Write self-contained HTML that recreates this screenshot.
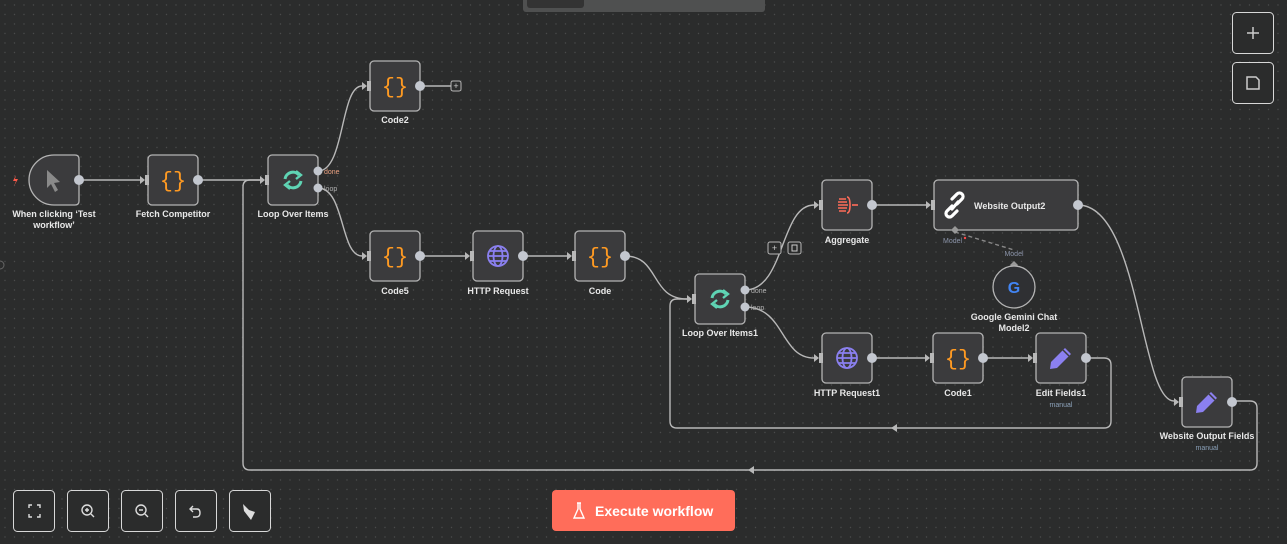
<!DOCTYPE html>
<html><head><meta charset="utf-8"><style>
html,body{margin:0;padding:0;width:1287px;height:544px;overflow:hidden;background:#2b2c2c;font-family:"Liberation Sans",sans-serif}
svg{position:absolute;left:0;top:0}
.lbl{font-family:"Liberation Sans",sans-serif;font-size:9px;font-weight:bold;fill:#e8e8e8;text-anchor:middle}
.sub{font-family:"Liberation Sans",sans-serif;font-size:7px;fill:#8aa0b8;text-anchor:middle}
.pl{font-family:"Liberation Sans",sans-serif;font-size:7px;fill:#b0b0b0}
</style></head><body>
<svg width="1287" height="544" viewBox="0 0 1287 544">
<defs>
<pattern id="dots" width="9.5" height="9.5" patternUnits="userSpaceOnUse"><circle cx="5" cy="5" r="0.7" fill="#4a4b4b"/></pattern>
<g id="in"><path d="M-8,-4 L-3,0 L-8,4Z" fill="#b8b8b8"/><rect x="-3" y="-5" width="4" height="10" fill="#b8b8b8"/></g>
<g id="box"><rect x="0" y="0" width="50" height="50" rx="4" fill="#3b3b3d" stroke="#b4b4b4" stroke-width="1.3"/></g>
<g id="braces"><text x="0" y="7" font-family="Liberation Mono,monospace" font-size="22" fill="#ff9a22" text-anchor="middle">{}</text></g>
<g id="globe" fill="none" stroke="#8b80f0" stroke-width="1.8"><circle r="10"/><ellipse rx="4.5" ry="10"/><line x1="-10" y1="0" x2="10" y2="0"/><path d="M-8.5,-5H8.5M-8.5,5H8.5"/></g>
<g id="loop" fill="none" stroke="#5fd4b4" stroke-width="3"><path d="M-8,-1 A8,8 0 0 1 6,-5"/><path d="M8,1 A8,8 0 0 1 -6,5"/><path d="M3,-9 L8,-5 L3,-1" stroke-width="2.4"/><path d="M-3,9 L-8,5 L-3,1" stroke-width="2.4"/></g>
<g id="pencil"><path d="M4,-10 L10,-4 L-4,10 L-11,11 L-10,4Z" fill="#8b80f0"/><line x1="2" y1="-8" x2="8" y2="-2" stroke="#3b3b3d" stroke-width="1.5"/></g>
</defs>
<rect width="1287" height="544" fill="#2b2c2c"/>
<rect width="1287" height="544" fill="url(#dots)"/>
<!-- top bar -->
<rect x="523" y="-6" width="242" height="18" rx="3" fill="#4f5050"/>
<rect x="527" y="-6" width="57" height="14" rx="3" fill="#333"/>
<!-- edges -->
<g fill="none" stroke="#b8b8b8" stroke-width="1.4">
<path d="M79,180 H140"/>
<path d="M198,180 H260"/>
<path d="M318,171 C345,171 340,86 362,86"/>
<path d="M420,86 H451"/>
<path d="M318,188 C345,188 340,256 362,256"/>
<path d="M420,256 H465"/>
<path d="M523,256 H567"/>
<path d="M625,256 C660,256 650,299 687,299"/>
<path d="M745,290 C785,290 780,205 814,205"/>
<path d="M872,205 H926"/>
<path d="M745,307 C785,307 780,358 814,358"/>
<path d="M872,358 H925"/>
<path d="M983,358 H1028"/>
<path d="M1078,205 C1140,205 1140,401 1174,401"/>
<path d="M1086,358 H1104 Q1111,358 1111,365 V421 Q1111,428 1104,428 H677 Q670,428 670,421 V306 Q670,299 677,299 H687"/>
<path d="M1232,401 H1250 Q1257,401 1257,408 V463 Q1257,470 1250,470 H250 Q243,470 243,463 V187 Q243,180 250,180 H260"/>
<path d="M955,232 L1014,250" stroke="#888" stroke-dasharray="4,3"/>
</g>
<path d="M897,424 L891,428 L897,432Z" fill="#b8b8b8"/>
<path d="M754,466 L748,470 L754,474Z" fill="#b8b8b8"/>
<!-- trigger -->
<path d="M54,155 H75 Q79,155 79,159 V201 Q79,205 75,205 H54 A25,25 0 0 1 29,180 A25,25 0 0 1 54,155Z" fill="#3b3b3d" stroke="#b4b4b4" stroke-width="1.3"/>
<path d="M47,170 L47,188 L51,184 L55,192 L58,190 L54,183 L60,182Z" fill="#8a8a8a"/>
<path d="M16,175 L13,181 L16,181 L14,186 L18,179 L15,179Z" fill="#ff5a4a"/>
<circle cx="79" cy="180" r="5" fill="#c3c7cf"/>
<text class="lbl" x="54" y="217">When clicking ‘Test</text>
<text class="lbl" x="54" y="228">workflow’</text>
<!-- Fetch Competitor -->
<use href="#box" x="148" y="155"/><use href="#in" x="148" y="180"/><use href="#braces" x="173" y="180"/><circle cx="198" cy="180" r="5" fill="#c3c7cf"/>
<text class="lbl" x="173" y="217">Fetch Competitor</text>
<!-- Loop Over Items -->
<use href="#box" x="268" y="155"/><use href="#in" x="268" y="180"/><use href="#loop" x="293" y="180"/>
<circle cx="318" cy="171" r="4.5" fill="#c3c7cf"/><circle cx="318" cy="188" r="4.5" fill="#c3c7cf"/>
<text class="pl" x="324" y="174" fill="#ff9a6a" style="fill:#e8a080">done</text><text class="pl" x="324" y="191">loop</text>
<text class="lbl" x="293" y="217">Loop Over Items</text>
<!-- Code2 -->
<use href="#box" x="370" y="61"/><use href="#in" x="370" y="86"/><use href="#braces" x="395" y="86"/><circle cx="420" cy="86" r="5" fill="#c3c7cf"/>
<rect x="451" y="81" width="10" height="10" rx="2" fill="#2b2c2c" stroke="#b8b8b8"/><text x="456" y="89" font-size="9" fill="#ccc" text-anchor="middle">+</text>
<text class="lbl" x="395" y="123">Code2</text>
<!-- Code5 -->
<use href="#box" x="370" y="231"/><use href="#in" x="370" y="256"/><use href="#braces" x="395" y="256"/><circle cx="420" cy="256" r="5" fill="#c3c7cf"/>
<text class="lbl" x="395" y="294">Code5</text>
<!-- HTTP Request -->
<use href="#box" x="473" y="231"/><use href="#in" x="473" y="256"/><use href="#globe" x="498" y="256"/><circle cx="523" cy="256" r="5" fill="#c3c7cf"/>
<text class="lbl" x="498" y="294">HTTP Request</text>
<!-- Code -->
<use href="#box" x="575" y="231"/><use href="#in" x="575" y="256"/><use href="#braces" x="600" y="256"/><circle cx="625" cy="256" r="5" fill="#c3c7cf"/>
<text class="lbl" x="600" y="294">Code</text>
<!-- Loop Over Items1 -->
<use href="#box" x="695" y="274"/><use href="#in" x="695" y="299"/><use href="#loop" x="720" y="299"/>
<circle cx="745" cy="290" r="4.5" fill="#c3c7cf"/><circle cx="745" cy="307" r="4.5" fill="#c3c7cf"/>
<text class="pl" x="751" y="293">done</text><text class="pl" x="751" y="310">loop</text>
<text class="lbl" x="720" y="336">Loop Over Items1</text>
<rect x="768" y="242" width="13" height="12" rx="2" fill="#2b2c2c" stroke="#b8b8b8"/><text x="774.5" y="251" font-size="9" fill="#ccc" text-anchor="middle">+</text>
<rect x="788" y="242" width="13" height="12" rx="2" fill="#2b2c2c" stroke="#b8b8b8"/><rect x="792" y="245" width="5" height="6" fill="none" stroke="#ccc"/>
<!-- Aggregate -->
<use href="#box" x="822" y="180"/><use href="#in" x="822" y="205"/>
<g stroke="#ff6d5a" stroke-width="1.6" fill="none"><path d="M839,199 H846 M838,202 H847 M838,205 H848 M838,208 H847 M839,211 H846"/><path d="M847,197 Q850,197 850,205 Q850,213 847,213"/><path d="M852,205 H858"/></g>
<circle cx="872" cy="205" r="5" fill="#c3c7cf"/>
<text class="lbl" x="847" y="243">Aggregate</text>
<!-- Website Output2 -->
<rect x="934" y="180" width="144" height="50" rx="4" fill="#3b3b3d" stroke="#b4b4b4" stroke-width="1.3"/><use href="#in" x="934" y="205"/>
<g fill="none" stroke="#fff" stroke-width="3.2" stroke-linecap="round"><path d="M952,206 L947,211 A3.5,3.5 0 0 0 952,216 L957,211"/><path d="M957,204 L962,199 A3.5,3.5 0 0 0 957,194 L952,199"/><path d="M952,209 L958,202"/></g>
<text x="974" y="209" font-size="9" font-weight="bold" fill="#e8e8e8">Website Output2</text>
<circle cx="1078" cy="205" r="5" fill="#c3c7cf"/>
<path d="M955,226 L959,230 L955,234 L951,230Z" fill="#999"/>
<text x="943" y="243" font-size="7" fill="#8a93a8">Model</text><circle cx="965" cy="238" r="1.2" fill="#ff4a4a"/>
<!-- Gemini -->
<text x="1014" y="256" font-size="7" fill="#8a93a8" text-anchor="middle">Model</text>
<path d="M1014,261 L1018,265 L1014,269 L1010,265Z" fill="#999"/>
<circle cx="1014" cy="287" r="21" fill="#2f3033" stroke="#b4b4b4" stroke-width="1.3"/>
<text x="1014" y="293" font-size="16" font-weight="bold" fill="#4285f4" text-anchor="middle">G</text>
<text class="lbl" x="1014" y="320">Google Gemini Chat</text>
<text class="lbl" x="1014" y="331">Model2</text>
<!-- HTTP Request1 -->
<use href="#box" x="822" y="333"/><use href="#in" x="822" y="358"/><use href="#globe" x="847" y="358"/><circle cx="872" cy="358" r="5" fill="#c3c7cf"/>
<text class="lbl" x="847" y="396">HTTP Request1</text>
<!-- Code1 -->
<use href="#box" x="933" y="333"/><use href="#in" x="933" y="358"/><use href="#braces" x="958" y="358"/><circle cx="983" cy="358" r="5" fill="#c3c7cf"/>
<text class="lbl" x="958" y="396">Code1</text>
<!-- Edit Fields1 -->
<use href="#box" x="1036" y="333"/><use href="#in" x="1036" y="358"/><use href="#pencil" x="1061" y="358"/><circle cx="1086" cy="358" r="5" fill="#c3c7cf"/>
<text class="lbl" x="1061" y="396">Edit Fields1</text><text class="sub" x="1061" y="407">manual</text>
<!-- Website Output Fields -->
<use href="#box" x="1182" y="377"/><use href="#in" x="1182" y="402"/><use href="#pencil" x="1207" y="402"/><circle cx="1232" cy="402" r="5" fill="#c3c7cf"/>
<text class="lbl" x="1207" y="439">Website Output Fields</text><text class="sub" x="1207" y="450">manual</text>
<!-- left edge half circle -->
<circle cx="0" cy="265" r="4" fill="none" stroke="#666"/>
<!-- right buttons -->
<rect x="1232.5" y="12.5" width="41" height="41" rx="4" fill="#2b2c2c" stroke="#d8d8d8"/>
<path d="M1253,27 V39 M1247,33 H1259" stroke="#ccc" stroke-width="1.5"/>
<rect x="1232.5" y="62.5" width="41" height="41" rx="4" fill="#2b2c2c" stroke="#d8d8d8"/>
<path d="M1247,77 H1256 L1259,80 V89 H1247Z" fill="none" stroke="#ccc" stroke-width="1.5"/>
<!-- bottom buttons -->
<g fill="#2b2c2c" stroke="#d8d8d8">
<rect x="13.5" y="490.5" width="41" height="41" rx="4"/><rect x="67.5" y="490.5" width="41" height="41" rx="4"/><rect x="121.5" y="490.5" width="41" height="41" rx="4"/><rect x="175.5" y="490.5" width="41" height="41" rx="4"/><rect x="229.5" y="490.5" width="41" height="41" rx="4"/>
</g>
<g fill="none" stroke="#ddd" stroke-width="1.4">
<path d="M29,508 V505 H32 M37,505 H40 V508 M40,514 V517 H37 M32,517 H29 V514"/>
<circle cx="87" cy="510" r="5"/><path d="M91,514 L94,517 M85,510 H89 M87,508 V512"/>
<circle cx="141" cy="510" r="5"/><path d="M145,514 L148,517 M139,510 H143"/>
<path d="M193,506 L190,509 L193,512 M190,509 H197 Q200,509 200,513 Q200,517 196,517 H193"/>
</g>
<path d="M243,504 L249,510 L255,512 L251,520 L244,511Z" fill="#ddd"/>
<!-- execute -->
<rect x="552" y="490" width="183" height="41" rx="4" fill="#ff6d5a"/>
<path d="M578,503 V509 L574,518 H584 L580,509 V503 M577,503 H581" fill="none" stroke="#fff" stroke-width="1.4"/>
<text x="595" y="516" font-size="14" font-weight="bold" fill="#fff">Execute workflow</text>
</svg>
</body></html>
